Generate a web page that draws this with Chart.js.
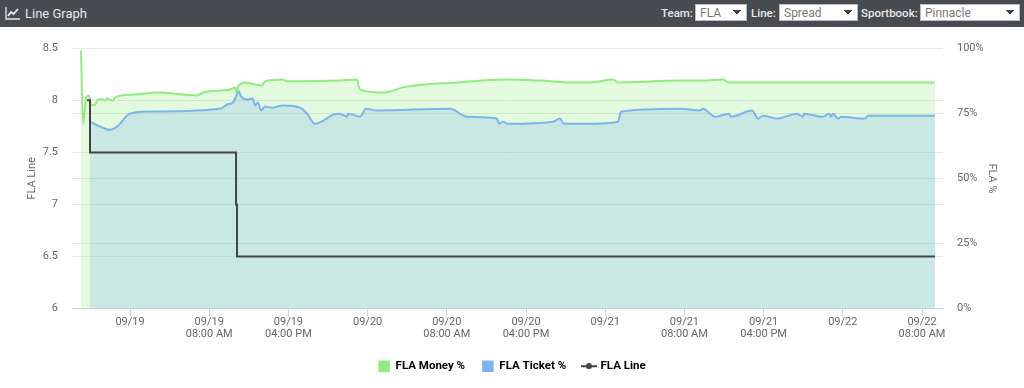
<!DOCTYPE html>
<html>
<head>
<meta charset="utf-8">
<title>Line Graph</title>
<script src="https://cdn.jsdelivr.net/npm/chart.js@4"></script>
<style>
  html, body { margin: 0; padding: 0; background: #fff; }
  body { width: 1024px; height: 388px; overflow: hidden; position: relative; font-family: Roboto, Arial, sans-serif; }
  .bar { position: absolute; left: 0; top: 0; width: 1024px; height: 27px; background: #484b50; color: #e8e8e8; }
  .bar svg { position: absolute; left: 5px; top: 7px; }
  .title { position: absolute; left: 25px; top: 6px; font-size: 13px; line-height: 16px; }
  .lbl { position: absolute; top: 5px; font-size: 11.5px; line-height: 16px; font-weight: 500; }
  select {
    position: absolute; top: 4px; height: 17px; box-sizing: border-box; margin: 0; padding: 0 0 0 4px;
    border: 1px solid #bbb; border-radius: 0; background: #fff; color: #777; font: 12px Roboto, Arial, sans-serif;
    appearance: none; -webkit-appearance: none;
    background-image: linear-gradient(45deg, transparent 50%, #444 50%), linear-gradient(-45deg, transparent 50%, #444 50%);
    background-size: 4px 5px, 4px 5px;
    background-position: calc(100% - 9px) 5px, calc(100% - 5px) 5px;
    background-repeat: no-repeat;
  }
  #chart { position: absolute; left: 0; top: 28px; }
</style>
</head>
<body>
<div class="bar">
  <svg width="15" height="13" viewBox="0 0 15 13"><path d="M1 0v12h14" fill="none" stroke="#e8e8e8" stroke-width="1.3"/><path d="M3 9l3-4 2.500 2 4.500-5" fill="none" stroke="#e8e8e8" stroke-width="1.8"/></svg>
  <span class="title">Line Graph</span>
  <span class="lbl" style="left:661px">Team:</span>
  <select style="left:695px;width:52px"><option>FLA</option></select>
  <span class="lbl" style="left:751px">Line:</span>
  <select style="left:779px;width:79px"><option>Spread</option></select>
  <span class="lbl" style="left:861px">Sportbook:</span>
  <select style="left:920px;width:100px"><option>Pinnacle</option></select>
</div>
<canvas id="chart" width="1024" height="354"></canvas>
<script>
// hours counted from 09/19 12:00 AM
const tickHours = [0, 8, 16, 24, 32, 40, 48, 56, 64, 72, 80];
const tickLabels = [
  ['09/19'], ['09/19', '08:00 AM'], ['09/19', '04:00 PM'],
  ['09/20'], ['09/20', '08:00 AM'], ['09/20', '04:00 PM'],
  ['09/21'], ['09/21', '08:00 AM'], ['09/21', '04:00 PM'],
  ['09/22'], ['09/22', '08:00 AM']
];
const lineTicks = [6, 6.5, 7, 7.5, 8, 8.5];
const pctTicks = [0, 25, 50, 75, 100];

const moneyHours = [-4.95, -4.75, -4.44, -4.14, -3.97, -3.64, -3.23, -2.83, -2.53, -2.32, -1.72, -1.52, 0.3, 2.73, 6.77, 7.37, 10.1, 10.6, 10.78, 10.9, 11.62, 13.33, 13.64, 15.45, 15.86, 21.2, 22.93, 23.13, 23.54, 25.56, 26.26, 27.47, 33.03, 38.08, 41.41, 44.75, 46.46, 48.79, 49.29, 55.56, 57.88, 59.9, 60.5, 81.31];
const moneyPct = [99.2, 71, 81.1, 81.9, 78.8, 78, 80.3, 80.5, 79.9, 80.7, 79.9, 81.1, 82.2, 83, 81.9, 83, 84.2, 84.9, 83, 85.3, 86.9, 85.7, 87.3, 88, 87.3, 87.6, 88, 84.9, 83.8, 83, 83.4, 84.9, 86.9, 88, 87.6, 86.9, 86.9, 88, 86.9, 87.6, 87.6, 88, 86.9, 86.9];

const ticketHours = [-4.04, -3.03, -2.02, -1.31, 0, 2.02, 9.09, 9.8, 10.4, 11.01, 11.21, 11.92, 12.42, 12.63, 12.93, 13.23, 13.64, 14.34, 15.45, 17.17, 17.88, 18.69, 19.7, 20.5, 21.21, 21.92, 22.02, 23.23, 23.84, 24.95, 32.32, 34.04, 37.07, 37.27, 37.68, 38.18, 42.73, 43.43, 43.84, 46.16, 49.29, 49.6, 55.56, 57.58, 57.88, 59.09, 60.5, 60.71, 62.83, 63.43, 63.94, 65.35, 67.37, 67.98, 68.08, 70, 70.61, 70.81, 71.01, 71.52, 71.82, 74.24, 74.55, 81.31];
const ticketPct = [71.8, 69.9, 68.7, 69.9, 74.9, 75.7, 76.8, 78.4, 79.2, 83.4, 81.5, 80.3, 80.7, 78, 79.2, 76.1, 77.6, 77.2, 78, 77.2, 74.9, 71, 72.6, 74.5, 74.9, 73.7, 74.9, 73.7, 76.8, 76.1, 76.8, 73.7, 73, 71, 71.8, 71, 71.8, 73, 71, 71, 71.8, 75.7, 76.8, 76.1, 76.8, 73.7, 74.9, 73.7, 76.1, 73, 74.1, 73, 74.9, 73.7, 74.9, 73.7, 74.9, 73.7, 74.9, 73, 73.7, 73, 74.1, 74.1];

const lineHours = [-4.34, -4.04, 10.71, 10.81, 81.31];
const lineValues = [8, 7.5, 7, 6.5, 6.5];

const seriesNames = ['FLA Money %', 'FLA Ticket %', 'FLA Line'];
const green = '#90ed7d', blue = '#7cb5ec', dark = '#434348';

const points = (xs, ys) => xs.map((x, i) => ({ x: x, y: ys[i] }));

// little line with a dot for the legend
const lineSymbol = document.createElement('canvas');
lineSymbol.width = 16;
lineSymbol.height = 6;
const sym = lineSymbol.getContext('2d');
sym.fillStyle = dark;
sym.fillRect(0, 2, 16, 2);
sym.beginPath();
sym.arc(8, 3, 3, 0, Math.PI * 2);
sym.fill();

const tickFont = { family: 'Roboto, Arial, sans-serif', size: 11, lineHeight: 1.15 };
const gridColor = '#e6e6e6';

new Chart(document.getElementById('chart'), {
  type: 'line',
  data: {
    datasets: [
      {
        label: seriesNames[0], data: points(moneyHours, moneyPct), yAxisID: 'pct', order: 3,
        borderColor: green, backgroundColor: 'rgba(144,237,125,0.25)', fill: 'start',
        borderWidth: 2, pointRadius: 0, cubicInterpolationMode: 'monotone'
      },
      {
        label: seriesNames[1], data: points(ticketHours, ticketPct), yAxisID: 'pct', order: 2,
        borderColor: blue, backgroundColor: 'rgba(124,181,236,0.25)', fill: 'start',
        borderWidth: 2, pointRadius: 0, cubicInterpolationMode: 'monotone'
      },
      {
        label: seriesNames[2], data: points(lineHours, lineValues), yAxisID: 'line', order: 1,
        borderColor: dark, backgroundColor: dark, fill: false,
        borderWidth: 2, pointRadius: 0, stepped: 'before'
      }
    ]
  },
  options: {
    responsive: false,
    animation: false,
    layout: { padding: { top: 20 } },
    scales: {
      x: {
        type: 'linear',
        min: -5.86,
        max: 82.12,
        afterBuildTicks: (axis) => { axis.ticks = tickHours.map((h) => ({ value: h })); },
        afterFit: (axis) => { axis.height = 35; },
        border: { color: '#ccd6eb' },
        grid: { drawOnChartArea: false, tickColor: '#ccd6eb', tickLength: 8 },
        ticks: {
          color: '#666', font: tickFont, padding: -1, maxRotation: 0, autoSkip: false,
          callback: (value, index) => tickLabels[index]
        }
      },
      line: {
        position: 'left',
        min: 6,
        max: 8.5,
        afterBuildTicks: (axis) => { axis.ticks = lineTicks.map((v) => ({ value: v })); },
        afterFit: (axis) => { axis.width = 72; },
        border: { display: false },
        grid: { color: gridColor, drawTicks: false },
        title: { display: true, text: 'FLA Line', color: '#666', font: tickFont, padding: { top: 26, bottom: 0 } },
        ticks: { color: '#666', font: tickFont, padding: 14, callback: (v) => String(v) }
      },
      pct: {
        position: 'right',
        min: 0,
        max: 100,
        afterBuildTicks: (axis) => { axis.ticks = pctTicks.map((v) => ({ value: v })); },
        afterFit: (axis) => { axis.width = 81; },
        border: { display: false },
        grid: { color: gridColor, drawTicks: false },
        title: { display: true, text: 'FLA %', color: '#666', font: tickFont, padding: { top: 26, bottom: 0 } },
        ticks: { color: '#666', font: tickFont, padding: 14, callback: (v) => v + '%' }
      }
    },
    plugins: {
      tooltip: { enabled: false },
      legend: {
        position: 'bottom',
        labels: {
          usePointStyle: true,
          boxHeight: 13,
          boxWidth: 13,
          padding: 17,
          color: '#333',
          font: { family: 'Roboto, Arial, sans-serif', size: 11.5, weight: 'bold' },
          generateLabels: () => [
            { text: seriesNames[0], fillStyle: green, strokeStyle: green, lineWidth: 0, pointStyle: 'rect', datasetIndex: 0 },
            { text: seriesNames[1], fillStyle: blue, strokeStyle: blue, lineWidth: 0, pointStyle: 'rect', datasetIndex: 1 },
            { text: seriesNames[2], fillStyle: dark, strokeStyle: dark, lineWidth: 0, pointStyle: lineSymbol, datasetIndex: 2 }
          ]
        }
      }
    }
  }
});
</script>
</body>
</html>
